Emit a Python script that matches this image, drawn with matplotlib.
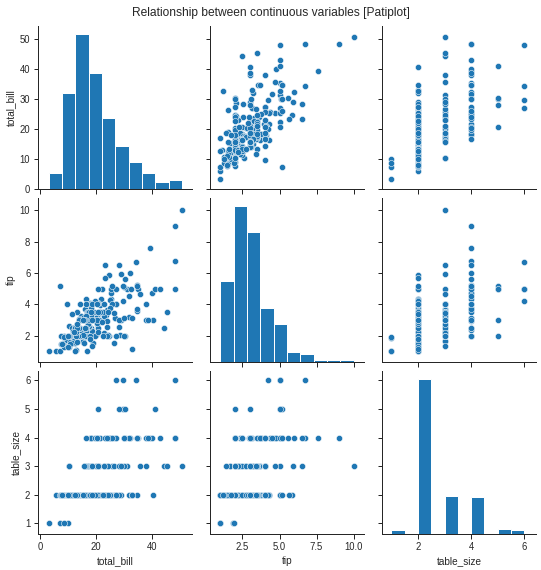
import matplotlib
matplotlib.use('Agg')
import matplotlib.pyplot as plt

# tips data: bill, tip and party size for each table
total_bill = [
    16.99, 10.34, 21.01, 23.68, 24.59, 25.29, 8.77, 26.88, 15.04, 14.78,
    10.27, 35.26, 15.42, 18.43, 14.83, 21.58, 10.33, 16.29, 16.97, 20.65,
    17.92, 20.29, 15.77, 39.42, 19.82, 17.81, 13.37, 12.69, 21.70, 19.65,
    9.55, 18.35, 15.06, 20.69, 17.78, 24.06, 16.31, 16.93, 18.69, 31.27,
    16.04, 17.46, 13.94, 9.68, 30.40, 18.29, 22.23, 32.40, 28.55, 18.04,
    12.54, 10.29, 34.81, 9.94, 25.56, 19.49, 38.01, 26.41, 11.24, 48.27,
    20.29, 13.81, 11.02, 18.29, 17.59, 20.08, 16.45, 3.07, 20.23, 15.01,
    12.02, 17.07, 26.86, 25.28, 14.73, 10.51, 17.92, 27.20, 22.76, 17.29,
    19.44, 16.66, 10.07, 32.68, 15.98, 34.83, 13.03, 18.28, 24.71, 21.16,
    28.97, 22.49, 5.75, 16.32, 22.75, 40.17, 27.28, 12.03, 21.01, 12.46,
    11.35, 15.38, 44.30, 22.42, 20.92, 15.36, 20.49, 25.21, 18.24, 14.31,
    14.00, 7.25, 38.07, 23.95, 25.71, 17.31, 29.93, 10.65, 12.43, 24.08,
    11.69, 13.42, 14.26, 15.95, 12.48, 29.80, 8.52, 14.52, 11.38, 22.82,
    19.08, 20.27, 11.17, 12.26, 18.26, 8.51, 10.33, 14.15, 16.00, 13.16,
    17.47, 34.30, 41.19, 27.05, 16.43, 8.35, 18.64, 11.87, 9.78, 7.51,
    14.07, 13.13, 17.26, 24.55, 19.77, 29.85, 48.17, 25.00, 13.39, 16.49,
    21.50, 12.66, 16.21, 13.81, 17.51, 24.52, 20.76, 31.71, 10.59, 10.63,
    50.81, 15.81, 7.25, 31.85, 16.82, 32.90, 17.89, 14.48, 9.60, 34.63,
    34.65, 23.33, 45.35, 23.17, 40.55, 20.69, 20.90, 30.46, 18.15, 23.10,
    15.69, 19.81, 28.44, 15.48, 16.58, 7.56, 10.34, 43.11, 13.00, 13.51,
    18.71, 12.74, 13.00, 16.40, 20.53, 16.47, 26.59, 38.73, 24.27, 12.76,
    30.06, 25.89, 48.33, 13.27, 28.17, 12.90, 28.15, 11.59, 7.74, 30.14,
    12.16, 13.42, 8.58, 15.98, 13.42, 16.27, 10.09, 20.45, 13.28, 22.12,
    24.01, 15.69, 11.61, 10.77, 15.53, 10.07, 12.60, 32.83, 35.83, 29.03,
    27.18, 22.67, 17.82, 18.78,
]
tip = [
    1.01, 1.66, 3.50, 3.31, 3.61, 4.71, 2.00, 3.12, 1.96, 3.23,
    1.71, 5.00, 1.57, 3.00, 3.02, 3.92, 1.67, 3.71, 3.50, 3.35,
    4.08, 2.75, 2.23, 7.58, 3.18, 2.34, 2.00, 2.00, 4.30, 3.00,
    1.45, 2.50, 3.00, 2.45, 3.27, 3.60, 2.00, 3.07, 2.31, 5.00,
    2.24, 2.54, 3.06, 1.32, 5.60, 3.00, 5.00, 6.00, 2.05, 3.00,
    2.50, 2.60, 5.20, 1.56, 4.34, 3.51, 3.00, 1.50, 1.76, 6.73,
    3.21, 2.00, 1.98, 3.76, 2.64, 3.15, 2.47, 1.00, 2.01, 2.09,
    1.97, 3.00, 3.14, 5.00, 2.20, 1.25, 3.08, 4.00, 3.00, 2.71,
    3.00, 3.40, 1.83, 5.00, 2.03, 5.17, 2.00, 4.00, 5.85, 3.00,
    3.00, 3.50, 1.00, 4.30, 3.25, 4.73, 4.00, 1.50, 3.00, 1.50,
    2.50, 3.00, 2.50, 3.48, 4.08, 1.64, 4.06, 4.29, 3.76, 4.00,
    3.00, 1.00, 4.00, 2.55, 4.00, 3.50, 5.07, 1.50, 1.80, 2.92,
    2.31, 1.68, 2.50, 2.00, 2.52, 4.20, 1.48, 2.00, 2.00, 2.18,
    1.50, 2.83, 1.50, 2.00, 3.25, 1.25, 2.00, 2.00, 2.00, 2.75,
    3.50, 6.70, 5.00, 5.00, 2.30, 1.50, 1.36, 1.63, 1.73, 2.00,
    2.50, 2.00, 2.74, 2.00, 2.00, 5.14, 5.00, 3.75, 2.61, 2.00,
    3.50, 2.50, 2.00, 2.00, 3.00, 3.48, 2.24, 4.50, 1.61, 2.00,
    10.00, 3.16, 5.15, 3.18, 4.00, 3.11, 2.00, 2.00, 4.00, 3.55,
    3.68, 5.65, 3.50, 6.50, 3.00, 5.00, 3.50, 2.00, 3.50, 4.00,
    1.50, 4.19, 2.56, 2.02, 4.00, 1.44, 2.00, 5.00, 2.00, 2.00,
    4.00, 2.01, 2.00, 2.50, 4.00, 3.23, 3.41, 3.00, 2.03, 2.23,
    2.00, 5.16, 9.00, 2.50, 6.50, 1.10, 3.00, 1.50, 1.44, 3.09,
    2.20, 3.48, 1.92, 3.00, 1.58, 2.50, 2.00, 3.00, 2.72, 2.88,
    2.00, 3.00, 3.39, 1.47, 3.00, 1.25, 1.00, 1.17, 4.67, 5.92,
    2.00, 2.00, 1.75, 3.00,
]
table_size = [
    2, 3, 3, 2, 4, 4, 2, 4, 2, 2,
    2, 4, 2, 4, 2, 2, 3, 3, 3, 3,
    2, 2, 2, 4, 2, 4, 2, 2, 2, 2,
    2, 4, 2, 4, 2, 3, 3, 3, 3, 3,
    3, 2, 2, 2, 4, 2, 2, 4, 3, 2,
    2, 2, 4, 2, 4, 2, 4, 2, 2, 4,
    2, 2, 2, 4, 3, 3, 2, 1, 2, 2,
    2, 3, 2, 2, 2, 2, 2, 4, 2, 2,
    2, 2, 1, 2, 2, 4, 2, 2, 2, 2,
    2, 2, 2, 2, 2, 4, 2, 2, 2, 2,
    2, 2, 3, 2, 2, 2, 2, 2, 2, 2,
    2, 1, 3, 2, 3, 2, 4, 2, 2, 4,
    2, 2, 2, 2, 2, 6, 2, 2, 2, 3,
    2, 2, 2, 2, 2, 2, 2, 2, 2, 2,
    2, 6, 5, 6, 2, 2, 3, 2, 2, 2,
    2, 2, 3, 4, 4, 5, 6, 4, 2, 4,
    4, 2, 3, 2, 2, 3, 2, 4, 2, 2,
    3, 2, 2, 2, 2, 2, 2, 2, 2, 2,
    4, 2, 3, 4, 2, 5, 3, 5, 3, 3,
    2, 2, 2, 2, 2, 2, 2, 4, 2, 2,
    3, 2, 2, 2, 4, 3, 3, 4, 2, 2,
    3, 4, 4, 2, 3, 2, 5, 2, 2, 4,
    2, 2, 1, 3, 2, 2, 2, 4, 2, 2,
    4, 3, 2, 2, 2, 2, 2, 2, 3, 3,
    2, 2, 2, 2,
]

var_names = ['total_bill', 'tip', 'table_size']
columns = [total_bill, tip, table_size]

dark = '#262626'
blue = '#1f77b4'

plt.rcParams['font.family'] = ['Liberation Sans', 'DejaVu Sans']
plt.rcParams['axes.edgecolor'] = dark
plt.rcParams['axes.labelcolor'] = dark
plt.rcParams['xtick.color'] = dark
plt.rcParams['ytick.color'] = dark
plt.rcParams['text.color'] = dark
plt.rcParams['axes.linewidth'] = 1.0

fig, axes = plt.subplots(3, 3, sharex='col', sharey='row',
                         figsize=(541 / 72, 570 / 72), dpi=72)
fig.subplots_adjust(left=0.0708, right=0.9902, bottom=0.0632, top=0.9544,
                    wspace=0.122, hspace=0.0565)

n = len(var_names)
for i in range(n):
    for j in range(n):
        ax = axes[i, j]
        if i == j:
            # histogram on its own hidden y scale, like pairplot's diag
            hax = ax.twinx()
            hax.hist(columns[j], bins=10, color=blue, edgecolor='white',
                     linewidth=1.0)
            hax.set_axis_off()
        else:
            ax.scatter(columns[j], columns[i], s=38, color=blue,
                       edgecolor='white', linewidth=0.5, zorder=3)
        ax.spines['top'].set_visible(False)
        ax.spines['right'].set_visible(False)
        ax.tick_params(length=4.5, width=1.0, labelsize=9.5)
        if i == n - 1:
            ax.set_xlabel(var_names[j], fontsize=10)
        if j == 0:
            ax.set_ylabel(var_names[i], fontsize=10)

# the old pairplot padded the ranges a little more than plain margins
axes[0, 0].set_xlim(-0.6, 54.3)
axes[0, 1].set_xlim(0.33, 10.68)
axes[0, 2].set_xlim(0.66, 6.43)
axes[0, 1].set_ylim(-0.2, 54.45)
axes[1, 0].set_ylim(0.34, 10.75)
axes[2, 0].set_ylim(0.62, 6.34)

fig.suptitle('Relationship between continuous variables [Patiplot]',
             fontsize=12, y=0.988)

plt.savefig('out.png', dpi=72)
